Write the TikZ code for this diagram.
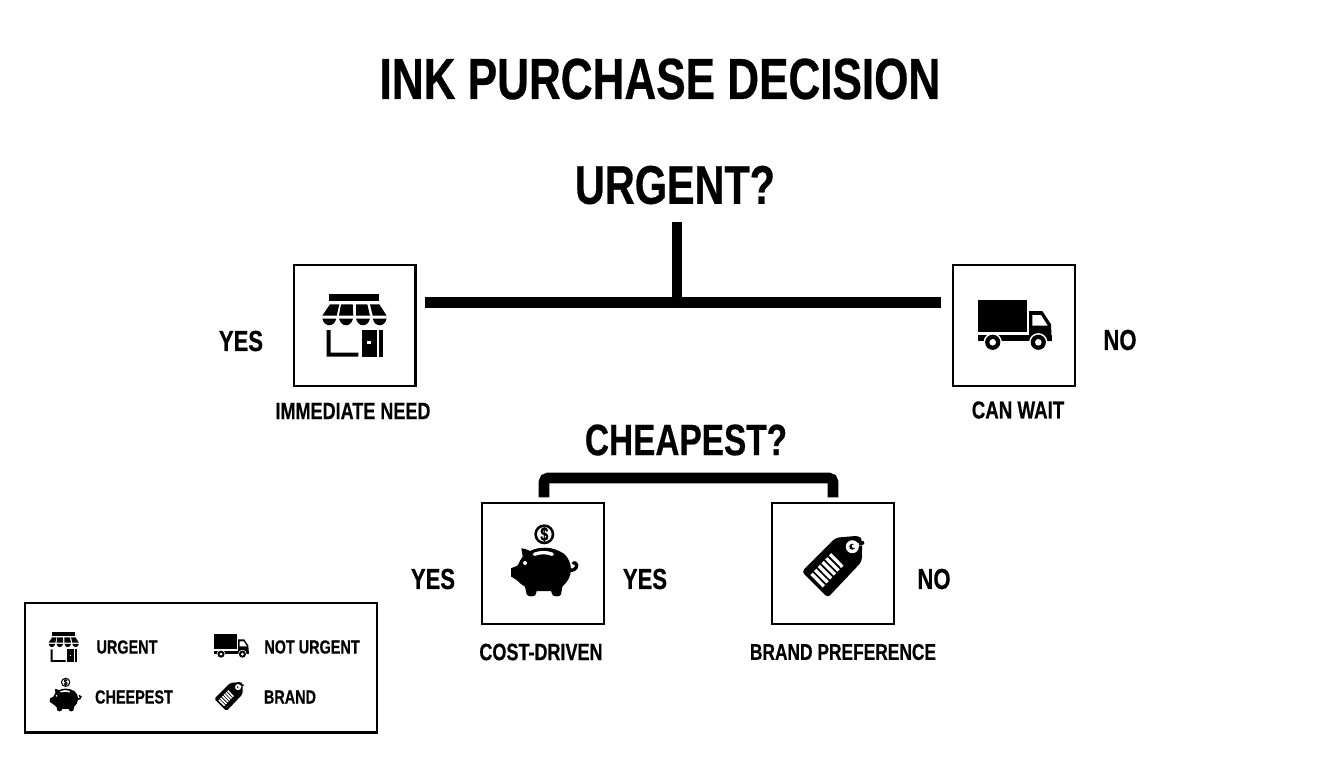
\documentclass[tikz,border=0pt]{standalone}
\usepackage{fontspec}
\setmainfont[FakeStretch=0.76,BoldFeatures={FakeBold=0.5}]{Liberation Sans}
\usepackage{tikz}
\usetikzlibrary{calc}
\usetikzlibrary{positioning}

\tikzset{
	iconline/.style={line width=1.9pt},
	taground/.style={rounded corners=2pt},
	coinmark/.style={font=\fontsize{11}{11}\selectfont\bfseries},
	legendicon/.style={scale=0.47,taground/.style={rounded corners=0.9pt},iconline/.style={line width=0.9pt},coinmark/.style={font=\fontsize{5}{5}\selectfont\bfseries}},
	iconbox/.style={draw,line width=1.15pt,minimum width=2.44cm,minimum height=2.41cm,inner sep=0pt,outer sep=0pt},
	barline/.style={line width=6.2pt},
	bigask/.style={inner sep=0pt,font=\fontsize{31}{31}\selectfont\bfseries},
	midask/.style={inner sep=0pt,font=\fontsize{25}{25}\selectfont\bfseries},
	answer/.style={inner sep=0pt,font=\fontsize{16.5}{16.5}\selectfont\bfseries},
	caption/.style={inner sep=0pt,font=\fontsize{13.5}{13.5}\selectfont\bfseries},
	legendtext/.style={inner sep=0pt,font=\fontsize{10.8}{10.8}\selectfont\bfseries},
	shopicon/.pic={
		\fill (-26.3,-31.3) rectangle (24.3,-24);
		\fill (-25,-20.7) -- (-15.7,-20.7) -- (-18.3,-9.3) -- (-32.7,-9.3) --cycle;
		\fill (-14,-20.7) -- (-2.3,-20.7) -- (-1.7,-9.3) -- (-16,-9.3) --cycle;
		\fill (1,-20.7) -- (12.3,-20.7) -- (15,-9.3) -- (1,-9.3) --cycle;
		\fill (15,-20.7) -- (24.3,-20.7) -- (31.7,-9.3) -- (17.7,-9.3) --cycle;
		\foreach \s in {-32.7,-16,1,17.7}
			\fill (\s,-6.5) .. controls (\s+2,2.5) and (\s+12,2.5) .. (\s+14,-6.5) --cycle;
		\fill (-28.3,5) -- (-24.3,5) -- (-24.3,27.7) -- (3.3,27.7) -- (3.3,31.7) -- (-28.3,31.7) --cycle;
		\fill (6.7,5) rectangle (21.7,31.7);
		\fill[white] (12.3,16) rectangle (15.7,19.3);
		\fill (24.3,5) rectangle (27.7,31.7);
	},
	truckicon/.pic={
		\fill (-35.7,-25) rectangle (12.7,7.3);
		\fill (15,-14) -- (28.3,-14) -- (37,-0.7) -- (37.7,16) -- (15,16) --cycle;
		\fill (-36,10) rectangle (37.7,16);
		\fill[white] (18.3,-10) -- (27,-10) -- (33.7,0.7) -- (18.3,0.7) --cycle;
		\foreach \w in {-21.3,24.3} {
			\fill[white] (\w,17.3) circle (9.2);
			\fill (\w,17.3) circle (7.6);
			\fill[white] (\w,17.3) circle (3.3);
		}
	},
	piggyicon/.pic={
		\fill (1.3,-29.2) circle (10);
		\fill[white] (1.3,-29.2) circle (7.3);
		\node[coinmark,inner sep=0pt] (coinsign) at (1.3,-29.2) {\$};
		\fill (-21.7,-15.2) .. controls (-18,-15) and (-15,-13.5) .. (-13,-12.5)
			.. controls (-8,-15) and (-3,-15.8) .. (2,-15.8)
			.. controls (9,-15.8) and (15,-13.5) .. (20.3,-10.2)
			.. controls (25,-7) and (28,0) .. (28,6.5)
			.. controls (28,13) and (24,19) .. (19.3,23.2)
			-- (18,31) .. controls (17,33.5) and (10,33.5) .. (9.3,31)
			-- (8,27.5) -- (-6.3,27.5) -- (-7.3,31)
			.. controls (-8,33.5) and (-15,33.5) .. (-16.3,31)
			-- (-18,23.2) .. controls (-21,21.5) and (-24,19) .. (-26.3,16.5)
			-- (-32,13) -- (-32,4.8) -- (-25.3,2)
			.. controls (-24,-1) and (-22.5,-4) .. (-20.3,-6.8) --cycle;
		\fill[white] (-18,-0.5) circle (2);
		\draw[white,iconline,line cap=round] (-8.7,-9.2) .. controls (-3,-11.5) and (4,-11.5) .. (9.3,-9.2);
		\draw[iconline,line cap=round] (27,6.5) .. controls (30,7.5) and (34,5) .. (33.7,1.5) .. controls (33.5,-0.5) and (31,-1.2) .. (30.3,-0.5);
	},
	tagicon/.pic={
		\fill[taground] (-31.3,8.2) -- (2.7,-25.8) -- (26,-27.8) -- (29.3,-23.5) -- (28.7,-1.8) -- (-5.3,34.2) --cycle;
		\fill[white] (19.3,-16.8) circle (6.5);
		\fill (19.3,-16.8) circle (3);
		\draw[white,iconline] (19.3,-16.8) -- (28.7,-20);
		\draw[iconline] (26,-19.5) -- (31,-21);
		\foreach \i in {0,...,5}
			\draw[white,iconline] ($(-3,-9.2)+\i*(-3.7,3.9)$) -- ($(9.3,3.2)+\i*(-3.7,3.9)$);
	}
}

\begin{document}
\begin{tikzpicture}[x=0.02cm,y=-0.02cm]
	
	\useasboundingbox (0,0) rectangle (1344,768);
	
	\node[inner sep=0pt,font=\fontsize{33}{33}\selectfont\bfseries] (title) at (660,79) {INK PURCHASE DECISION};
	\node[bigask] (urgent) at (675,185) {URGENT?};
	
	\node[iconbox] (shopbox) at (354.5,325.5) {};
	\node[iconbox] (truckbox) at (1014,325.5) {};
	\pic at (355,325) {shopicon};
	\pic at (1014,325) {truckicon};
	
	\coordinate (stemtop) at (677,222);
	\coordinate (stemfoot) at (677,302.5);
	\coordinate (barleft) at (425,302.5);
	\coordinate (barright) at (941,302.5);
	\draw[barline] (stemtop) -- (stemfoot);
	\draw[barline] (barleft) -- (barright);
	
	\node[answer] (yesurgent) at (241,341) {YES};
	\node[answer] (nourgent) at (1120,340) {NO};
	\node[caption] (immediate) at (353,411) {IMMEDIATE NEED};
	\node[caption,font=\fontsize{14}{14}\selectfont\bfseries] (canwait) at (1018,410) {CAN WAIT};
	
	\node[midask] (cheapest) at (686,440) {CHEAPEST?};
	\node[iconbox] (piggybox) at (543,563.5) {};
	\node[iconbox] (tagbox) at (833,563.5) {};
	\pic at (543,563.5) {piggyicon};
	\pic at (833,563.5) {tagicon};
	
	\coordinate (piggyfoot) at ($(piggybox.north)+(1,-6)$);
	\coordinate (tagfoot) at ($(tagbox.north)+(0,-6)$);
	\coordinate (piggycorner) at (544,478);
	\coordinate (tagcorner) at (833,478);
	\draw[barline,rounded corners=2.5pt] (piggyfoot) -- (piggycorner) -- (tagcorner) -- (tagfoot);
	
	\node[answer] (yesleft) at (433,579) {YES};
	\node[answer] (yesright) at (645,579) {YES};
	\node[answer] (nobrand) at (934,579) {NO};
	\node[caption] (costdriven) at (541,652) {COST-DRIVEN};
	\node[caption,font=\fontsize{13}{13}\selectfont\bfseries] (brandpref) at (843,652) {BRAND PREFERENCE};
	
	% legend
	\node[draw,line width=1.15pt,minimum width=7.04cm,minimum height=2.6cm,inner sep=0pt] (legendbox) at (201,667.5) {};
	\pic[legendicon] at (64,647) {shopicon};
	\pic[legendicon] at (231,646) {truckicon};
	\pic[legendicon] at (65,696) {piggyicon};
	\pic[legendicon] at (229,695) {tagicon};
	\node[legendtext] (legurgent) at (127,647) {URGENT};
	\node[legendtext] (legnoturgent) at (312,647) {NOT URGENT};
	\node[legendtext] (legcheepest) at (134,697) {CHEEPEST};
	\node[legendtext] (legbrand) at (290,697) {BRAND};
	
\end{tikzpicture}
\end{document}
